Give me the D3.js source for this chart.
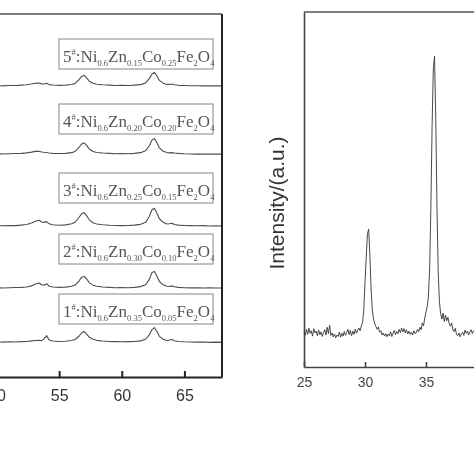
<!DOCTYPE html>
<meta charset="utf-8">
<script src="https://d3js.org/d3.v7.min.js"></script>
<style>
  body { margin: 0; background: #fff; }
  svg { display: block; filter: grayscale(100%); }
</style>
<body>
<script>
    // ---- left panel: stacked XRD patterns, 2theta 48..68 ----
    var leftX = [48.0, 48.5, 49.0, 49.5, 50.0, 50.5, 51.0, 51.5, 52.0, 52.4, 52.8, 53.1, 53.4, 53.6, 53.8,
                 54.0, 54.2, 54.5, 55.0, 55.5, 56.0, 56.3, 56.6, 56.8, 57.0, 57.2, 57.4, 57.7, 58.0, 58.5,
                 59.0, 59.5, 60.0, 60.5, 61.0, 61.5, 61.9, 62.2, 62.4, 62.6, 62.8, 63.0, 63.3, 63.6, 63.8,
                 64.0, 64.2, 64.5, 65.0, 65.5, 66.0, 66.5, 67.0, 67.5, 68.0];

    var sample1 = [0.1, -0.05, 0.05, 0.0, 0.1, 0.0, 0.1, 0.05, 0.15, 0.2, 0.35, 0.45, 0.5, 0.4, 0.9,
                   1.8, 0.6, 0.3, 0.2, 0.25, 0.45, 0.8, 1.7, 2.6, 2.9, 2.2, 1.4, 0.8, 0.5, 0.3,
                   0.2, 0.15, 0.1, 0.15, 0.2, 0.35, 0.8, 2.0, 3.4, 4.0, 3.0, 1.6, 0.8, 0.45, 0.6,
                   0.75, 0.4, 0.2, 0.1, 0.05, 0.0, 0.05, -0.05, 0.0, -0.05];
    var sample2 = [0.1, 0.0, 0.1, 0.05, 0.1, 0.0, 0.1, 0.15, 0.2, 0.3, 0.6, 1.1, 1.4, 0.9, 0.8,
                   1.2, 0.5, 0.3, 0.2, 0.25, 0.5, 0.9, 2.0, 3.0, 3.2, 2.5, 1.5, 0.8, 0.5, 0.3,
                   0.2, 0.1, 0.15, 0.1, 0.2, 0.4, 0.9, 2.4, 4.2, 4.6, 3.3, 1.8, 0.9, 0.5, 0.45,
                   0.6, 0.35, 0.2, 0.1, 0.05, 0.05, 0.0, 0.05, 0.0, 0.0];
    var sample3 = [0.15, 0.05, 0.1, 0.0, 0.1, 0.05, 0.15, 0.1, 0.25, 0.4, 0.8, 1.3, 1.6, 1.1, 1.0,
                   1.2, 0.6, 0.35, 0.2, 0.3, 0.6, 1.1, 2.4, 3.4, 3.7, 2.8, 1.7, 0.9, 0.55, 0.35,
                   0.2, 0.15, 0.1, 0.15, 0.25, 0.45, 1.0, 2.6, 4.4, 4.9, 3.6, 2.0, 1.0, 0.55, 0.6,
                   0.75, 0.4, 0.25, 0.15, 0.1, 0.05, 0.1, 0.0, 0.05, 0.0];
    var sample4 = [0.1, 0.0, 0.05, 0.0, 0.1, 0.05, 0.1, 0.15, 0.2, 0.35, 0.55, 0.75, 0.8, 0.6, 0.5,
                   0.45, 0.3, 0.2, 0.15, 0.2, 0.4, 0.8, 1.9, 2.8, 3.1, 2.4, 1.4, 0.7, 0.45, 0.3,
                   0.2, 0.1, 0.15, 0.1, 0.2, 0.4, 0.9, 2.3, 3.8, 4.3, 3.2, 1.7, 0.8, 0.45, 0.35,
                   0.4, 0.3, 0.2, 0.1, 0.05, 0.0, 0.05, 0.0, 0.05, 0.0];
    var sample5 = [0.1, 0.0, 0.1, 0.05, 0.1, 0.0, 0.1, 0.1, 0.2, 0.3, 0.5, 0.7, 0.8, 0.55, 0.5,
                   0.7, 0.35, 0.25, 0.15, 0.2, 0.4, 0.75, 1.8, 2.6, 2.9, 2.2, 1.3, 0.7, 0.45, 0.3,
                   0.2, 0.1, 0.15, 0.1, 0.2, 0.35, 0.8, 2.0, 3.2, 3.7, 2.8, 1.5, 0.75, 0.4, 0.4,
                   0.5, 0.3, 0.15, 0.1, 0.05, 0.05, 0.0, 0.05, 0.0, 0.0];

    var leftSeries = [sample1, sample2, sample3, sample4, sample5];
    var leftOffsets = [9.6, 24.5, 41.6, 61.4, 80.2];   // vertical stacking offset (a.u.)
    var sampleIds = ["1", "2", "3", "4", "5"];
    var znFrac = ["0.35", "0.30", "0.25", "0.20", "0.15"];
    var coFrac = ["0.05", "0.10", "0.15", "0.20", "0.25"];
    var leftTicks = [50, 55, 60, 65];

    // ---- right panel: single scan, 2theta 25..39 ----
    var rightScan = [
      [25.0, 9.8], [25.1, 8.9], [25.2, 10.6], [25.3, 9.2], [25.4, 10.9], [25.5, 9.5], [25.6, 10.2], [25.7, 8.7],
      [25.8, 10.8], [25.9, 9.6], [26.0, 10.1], [26.1, 8.8], [26.2, 10.4], [26.3, 9.1], [26.4, 9.9], [26.5, 8.6],
      [26.6, 9.7], [26.7, 10.5], [26.8, 9.0], [26.9, 11.2], [27.0, 9.4], [27.1, 11.8], [27.2, 8.9], [27.3, 9.6],
      [27.4, 8.5], [27.5, 9.3], [27.6, 8.2], [27.7, 9.0], [27.8, 8.6], [27.9, 9.8], [28.0, 8.4], [28.1, 9.5],
      [28.2, 8.7], [28.3, 10.0], [28.4, 8.9], [28.5, 9.7], [28.6, 10.6], [28.7, 9.1], [28.8, 10.3], [28.9, 8.8],
      [29.0, 10.1], [29.1, 9.2], [29.2, 10.7], [29.3, 9.5], [29.4, 10.4], [29.5, 11.0], [29.6, 10.2], [29.7, 11.6],
      [29.8, 12.5], [29.9, 16.0], [30.0, 24.0], [30.1, 31.0], [30.2, 37.5], [30.3, 38.8], [30.4, 31.5], [30.5, 22.0],
      [30.6, 16.0], [30.7, 13.5], [30.8, 12.2], [30.9, 11.4], [31.0, 10.6], [31.1, 11.3], [31.2, 9.8], [31.3, 10.2],
      [31.4, 9.0], [31.5, 9.6], [31.6, 8.7], [31.7, 9.4], [31.8, 8.5], [31.9, 9.3], [32.0, 8.8], [32.1, 9.9],
      [32.2, 8.6], [32.3, 9.5], [32.4, 10.3], [32.5, 9.1], [32.6, 10.0], [32.7, 9.4], [32.8, 10.6], [32.9, 9.7],
      [33.0, 11.0], [33.1, 9.9], [33.2, 10.8], [33.3, 9.6], [33.4, 10.5], [33.5, 9.3], [33.6, 10.1], [33.7, 9.2],
      [33.8, 9.8], [33.9, 9.0], [34.0, 10.2], [34.1, 9.4], [34.2, 9.7], [34.3, 10.6], [34.4, 9.9], [34.5, 11.2],
      [34.6, 10.5], [34.7, 12.4], [34.8, 11.6], [34.9, 13.8], [35.0, 15.5], [35.1, 17.0], [35.2, 20.0], [35.3, 28.0],
      [35.4, 45.0], [35.5, 68.0], [35.6, 84.0], [35.7, 87.5], [35.8, 70.0], [35.9, 45.0], [36.0, 27.0], [36.1, 18.5],
      [36.2, 15.0], [36.3, 13.5], [36.4, 15.2], [36.5, 12.8], [36.6, 14.6], [36.7, 13.0], [36.8, 14.0], [36.9, 12.2],
      [37.0, 11.5], [37.1, 12.4], [37.2, 10.6], [37.3, 10.0], [37.4, 10.9], [37.5, 9.2], [37.6, 8.8], [37.7, 9.6],
      [37.8, 8.5], [37.9, 9.3], [38.0, 9.8], [38.1, 8.9], [38.2, 10.4], [38.3, 9.5], [38.4, 10.1], [38.5, 9.0],
      [38.6, 9.9], [38.7, 10.5], [38.8, 9.4], [38.9, 10.2], [39.0, 9.7]
    ];
    var rightTicks = [25, 30, 35];

    var svg = d3.select("body")
      .append("svg")
        .attr("width", 474)
        .attr("height", 474);

    // ================= left panel =================
    var xL = d3.scaleLinear().domain([50, 68]).range([-3.5, 222]);
    var yL = d3.scaleLinear().domain([0, 100]).range([377, 14]);

    var left = svg.append("g");

    var lineL = d3.line()
      .x(function(d) { return xL(d[0]); })
      .y(function(d) { return yL(d[1]); });

    leftSeries.forEach(function(vals, i) {
      var pts = leftX.map(function(x, j) { return [x, leftOffsets[i] + vals[j]]; });
      left.append("path")
        .datum(pts)
        .attr("fill", "none")
        .attr("stroke", "#4d4d4d")
        .attr("stroke-width", 1.1)
        .attr("stroke-linejoin", "round")
        .attr("d", lineL);
    });

    // sample labels in boxes
    var labelTop = [294, 234, 173, 104, 39];
    sampleIds.forEach(function(id, i) {
      var g = left.append("g")
        .attr("transform", "translate(59," + labelTop[i] + ")");
      g.append("rect")
        .attr("width", 154).attr("height", 30)
        .attr("fill", "#fff")
        .attr("stroke", "#9a9a9a")
        .attr("stroke-width", 1.2);
      var parts = [
        [id, 0], ["#", -1], [":Ni", 0], ["0.6", 1], ["Zn", 0], [znFrac[i], 1],
        ["Co", 0], [coFrac[i], 1], ["Fe", 0], ["2", 1], ["O", 0], ["4", 1]
      ];
      var t = g.append("text")
        .attr("x", 4).attr("y", 23)
        .attr("font-family", "'Liberation Serif', 'Times New Roman', serif")
        .attr("font-size", 17)
        .attr("fill", "#555");
      var shift = 0;
      parts.forEach(function(p) {
        var target = p[1] === 1 ? 4 : (p[1] === -1 ? -7 : 0);
        t.append("tspan")
          .attr("dy", target - shift)
          .attr("font-size", p[1] === 0 ? 17 : 8.5)
          .text(p[0]);
        shift = target;
      });
    });

    // left frame
    left.append("g")
      .attr("transform", "translate(0,377)")
      .call(d3.axisBottom(xL).tickValues(leftTicks).tickSizeInner(-6).tickSizeOuter(0).tickPadding(12.6))
      .call(function(g) {
        g.select(".domain").attr("stroke", "#222").attr("stroke-width", 2);
        g.selectAll(".tick line").attr("stroke", "#222").attr("stroke-width", 2);
        g.selectAll(".tick text")
          .attr("fill", "#333")
          .attr("font-family", "'Liberation Sans', Arial, sans-serif")
          .attr("font-size", 16);
      });
    left.append("line")
      .attr("x1", xL(50) - 10).attr("x2", xL(68)).attr("y1", yL(100)).attr("y2", yL(100))
      .attr("stroke", "#555").attr("stroke-width", 1.5);
    left.append("line")
      .attr("x1", xL(68)).attr("x2", xL(68)).attr("y1", yL(100)).attr("y2", yL(0))
      .attr("stroke", "#222").attr("stroke-width", 2);

    // ================= right panel =================
    var xR = d3.scaleLinear().domain([25, 40]).range([304, 487]);
    var yR = d3.scaleLinear().domain([0, 100]).range([367, 12]);

    var right = svg.append("g");

    right.append("path")
      .datum(rightScan)
      .attr("fill", "none")
      .attr("stroke", "#333")
      .attr("stroke-width", 0.9)
      .attr("d", d3.line()
        .x(function(d) { return xR(d[0]); })
        .y(function(d) { return yR(d[1]); }));

    right.append("g")
      .attr("transform", "translate(0,367)")
      .call(d3.axisBottom(xR).tickValues(rightTicks).tickSizeInner(-5).tickSizeOuter(0).tickPadding(10))
      .call(function(g) {
        g.select(".domain").attr("stroke", "#444").attr("stroke-width", 1.6);
        g.selectAll(".tick line").attr("stroke", "#444").attr("stroke-width", 1.6);
        g.selectAll(".tick text")
          .attr("fill", "#444")
          .attr("font-family", "'Liberation Sans', Arial, sans-serif")
          .attr("font-size", 14);
      });
    right.append("g")
      .attr("transform", "translate(304,0)")
      .call(d3.axisLeft(yR).tickValues([]).tickSizeOuter(0))
      .call(function(g) {
        g.select(".domain").attr("stroke", "#444").attr("stroke-width", 1.6);
      });
    right.append("line")
      .attr("x1", xR(25)).attr("x2", xR(40)).attr("y1", yR(100)).attr("y2", yR(100))
      .attr("stroke", "#555").attr("stroke-width", 1.5);

    right.append("text")
      .attr("transform", "translate(284,203) rotate(-90)")
      .attr("text-anchor", "middle")
      .attr("font-family", "'Liberation Sans', Arial, sans-serif")
      .attr("font-size", 21)
      .attr("fill", "#333")
      .text("Intensity/(a.u.)");
</script>
</body>
